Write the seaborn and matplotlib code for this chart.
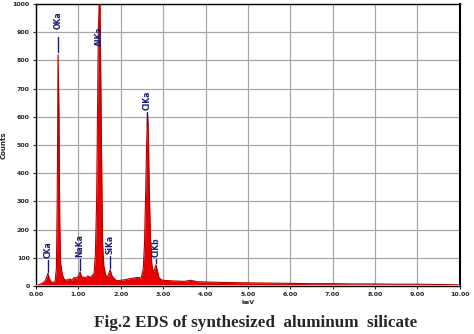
import matplotlib
matplotlib.use("Agg")
import matplotlib.pyplot as plt
import seaborn as sns
import pandas as pd

# Spectrum (energy in keV, counts)
energy = [0.00, 0.05, 0.10, 0.15, 0.20, 0.24, 0.28, 0.31, 0.35, 0.40, 0.45, 0.48,
          0.50, 0.52, 0.54, 0.56, 0.58, 0.62, 0.66, 0.70, 0.75, 0.80, 0.85, 0.90,
          0.95, 1.00, 1.04, 1.08, 1.12, 1.17, 1.22, 1.28, 1.33, 1.37, 1.40, 1.43,
          1.45, 1.47, 1.49, 1.51, 1.53, 1.55, 1.57, 1.60, 1.64, 1.68, 1.72, 1.75,
          1.78, 1.82, 1.87, 1.92, 2.00, 2.10, 2.20, 2.30, 2.40, 2.48, 2.53, 2.56,
          2.59, 2.61, 2.63, 2.65, 2.67, 2.70, 2.73, 2.76, 2.80, 2.83, 2.86, 2.90,
          2.95, 3.00, 3.20, 3.50, 3.65, 3.80, 4.00, 4.50, 5.00, 5.50, 6.00, 6.50,
          7.00, 7.50, 8.00, 8.50, 9.00, 9.50, 9.95, 10.00]
counts = [0, 3, 6, 10, 15, 25, 45, 28, 15, 12, 16, 60,
          300, 820, 620, 220, 80, 40, 25, 20, 22, 25, 20, 30,
          28, 35, 50, 30, 32, 28, 35, 30, 38, 45, 110, 300,
          600, 900, 1000, 1000, 700, 400, 150, 70, 40, 30, 45, 58,
          40, 30, 22, 18, 20, 22, 25, 28, 30, 28, 60, 150,
          350, 500, 610, 550, 350, 170, 80, 50, 60, 75, 55, 30,
          22, 20, 18, 16, 20, 15, 14, 12, 11, 10, 9, 8,
          8, 7, 7, 6, 6, 5, 4, 0]

peak_names = ["CKa", "OKa", "NaKa", "AlKa", "SiKa", "ClKa", "ClKb"]
peak_energy = [0.28, 0.52, 1.04, 1.49, 1.74, 2.63, 2.83]
peak_line_lo = [50, 830, 55, 1000, 62, 572, 80]
peak_line_hi = [92, 882, 95, 1000, 105, 617, 95]
peak_text_y = [100, 910, 104, 850, 112, 625, 104]

x_ticks = [0, 1, 2, 3, 4, 5, 6, 7, 8, 9, 10]
x_tick_labels = ["0.00", "1.00", "2.00", "3.00", "4.00", "5.00", "6.00", "7.00", "8.00", "9.00", "10.00"]
y_ticks = [0, 100, 200, 300, 400, 500, 600, 700, 800, 900, 1000]

sns.set_style("white")
plt.rcParams['font.family'] = ['DejaVu Sans']

df = pd.DataFrame({"keV": energy, "Counts": counts})

fig = plt.figure(figsize=(4.74, 3.34), dpi=100)
ax = fig.add_axes([0.076, 0.144, 0.894, 0.844])

ax.fill_between(df["keV"], 0, df["Counts"], color="#e80000", linewidth=0, zorder=2)
sns.lineplot(data=df, x="keV", y="Counts", ax=ax, color="#b00000", linewidth=0.8, zorder=3)
ax.axhline(0, color="#f5d000", linewidth=2.0, zorder=4)

navy = "#1c1c78"
for name, e, lo, hi, ty in zip(peak_names, peak_energy, peak_line_lo, peak_line_hi, peak_text_y):
    if name != "AlKa":
        ax.plot([e, e], [lo, hi], color=navy, linewidth=1.0, zorder=5)
    ax.text(e, ty, name, rotation=90, ha="center", va="bottom", fontsize=5.5,
            color=navy, fontweight="bold", family=["Liberation Sans Narrow", "DejaVu Sans"], zorder=6)

ax.set_xlim(0, 10)
ax.set_ylim(0, 1000)
ax.set_xticks(x_ticks)
ax.set_xticklabels(x_tick_labels)
ax.set_yticks(y_ticks)
ax.grid(True, color="#a8a8a8", linewidth=0.9, zorder=0)
ax.set_axisbelow(True)
ax.tick_params(axis="both", labelsize=4.5, length=2.5, width=0.8, pad=2, direction="out")
ax.tick_params(axis="y", left=True)
ax.tick_params(axis="x", bottom=True)
for lab in ax.get_xticklabels() + ax.get_yticklabels():
    lab.set_fontweight("bold")
for s in ax.spines.values():
    s.set_color("black")
    s.set_linewidth(1.0)
ax.spines["right"].set_linewidth(1.5)

ax.set_xlabel("keV", fontsize=4.5, fontweight="bold", labelpad=2)
ax.set_ylabel("Counts", fontsize=5, fontweight="bold", labelpad=4)

fig.text(0.54, 0.01, "Fig.2 EDS of synthesized  aluminum  silicate", ha="center", va="bottom",
         fontsize=12.3, fontweight="bold", family=["Liberation Serif", "DejaVu Serif"])

fig.savefig("out.png", dpi=100)
